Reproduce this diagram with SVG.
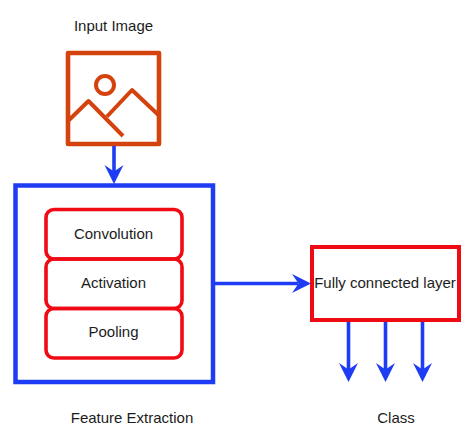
<svg xmlns="http://www.w3.org/2000/svg" width="474" height="445" viewBox="0 0 474 445">
  <style>
    text { font-family: "Liberation Sans", Arial, sans-serif; font-size: 15px; fill: #1c1c1c; text-anchor: middle; }
    .blue { fill: none; stroke: #1f3cf5; stroke-width: 3.6; }
    .redbox { fill: none; stroke: #f00a14; stroke-width: 3.6; }
    .orange { fill: none; stroke: #d4430e; stroke-width: 4; stroke-linejoin: round; }
    .head { fill: #1f3cf5; stroke: none; }
  </style>
  <defs>
    <path id="headDown" class="head" d="M0 0 L-9.500 -19 L0 -12.500 L9.500 -19 Z"/>
  </defs>
  <rect width="474" height="445" fill="#fff"/>
  <g id="input-image">
    <text x="113.500" y="30.500">Input Image</text>
    <rect class="orange" style="stroke-width:4.600" x="68" y="53" width="91" height="91"/>
    <circle class="orange" cx="105" cy="85" r="9"/>
    <path class="orange" d="M68 121 L88.500 101 L123 136 M107 116.500 L132 90 L159 115.500"/>
  </g>
  <g id="feature-extraction">
    <rect x="15.500" y="185.500" width="197.500" height="196.500" fill="#fff" stroke="#1f3cf5" stroke-width="4.500"/>
    <text x="132" y="423">Feature Extraction</text>
  </g>
  <g id="convolution">
    <rect class="redbox" x="46" y="209.500" width="136" height="49.500" rx="8"/>
    <text x="113.500" y="238.500">Convolution</text>
  </g>
  <g id="activation">
    <rect class="redbox" x="46" y="259" width="136" height="49.500" rx="8"/>
    <text x="113.500" y="288">Activation</text>
  </g>
  <g id="pooling">
    <rect class="redbox" x="46" y="308.500" width="136" height="49.500" rx="8"/>
    <text x="113.500" y="337">Pooling</text>
  </g>
  <g id="fully-connected-layer">
    <rect class="redbox" style="stroke-width:4" x="312" y="247" width="147" height="73"/>
    <text x="385" y="288">Fully connected layer</text>
  </g>
  <g id="class-label">
    <text x="396" y="423">Class</text>
  </g>
  <g id="connectors">
    <path class="blue" d="M114 146 V172"/>
    <use href="#headDown" x="114" y="184"/>
    <path class="blue" d="M215 283.500 H298"/>
    <path class="head" d="M311 283.500 L292 274 L298.500 283.500 L292 293 Z"/>
    <path class="blue" d="M348.500 322 V370"/>
    <use href="#headDown" x="348.500" y="382"/>
    <path class="blue" d="M385.500 322 V370"/>
    <use href="#headDown" x="385.500" y="382"/>
    <path class="blue" d="M422.500 322 V370"/>
    <use href="#headDown" x="422.500" y="382"/>
  </g>
</svg>
